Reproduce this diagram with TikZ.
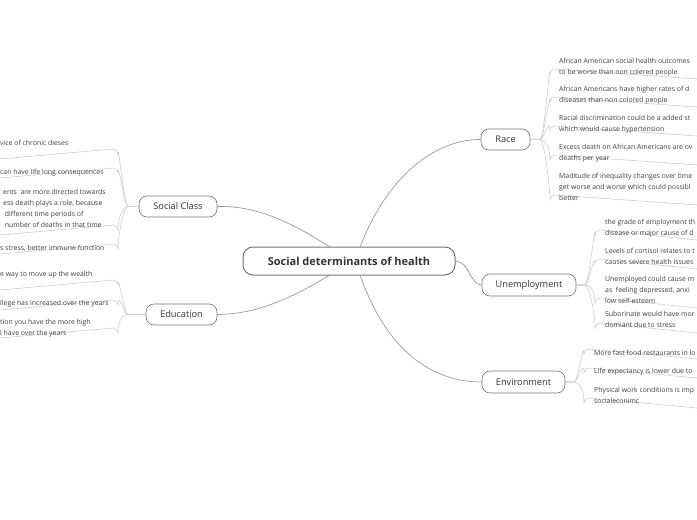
\documentclass[tikz,border=0pt]{standalone}
\usepackage{fontspec}
\setmainfont{Open Sans}
\begin{document}
\begin{tikzpicture}[x=1pt,y=-1pt,
  leaf/.style={anchor=north west,inner sep=0pt,align=left,text=black!75,font=\fontsize{6.9}{11}\selectfont,yshift=-3pt},
  br/.style={draw=black!55,rounded corners=8pt,fill=white,inner sep=0pt,text=black!80,font=\fontsize{9.2}{10}\selectfont,line width=0.6pt},
  main/.style={draw=black!55,line width=1pt,rounded corners=10pt,inner sep=0pt,font=\bfseries\fontsize{11}{12}\selectfont,text=black!80},
  con/.style={draw=black!40,line width=0.7pt},
  lf/.style={draw=black!20,line width=0.6pt}]
\useasboundingbox (0,0) rectangle (697,520);
\clip (0,0) rectangle (697,520);
% main
\node[main,minimum width=212pt,minimum height=28pt] (c) at (349,261) {Social determinants of health};
\node[br,minimum width=49pt,minimum height=21pt] (race) at (505.5,139.5) {Race};
\node[br,minimum width=94pt,minimum height=22pt] (unemp) at (529,285) {Unemployment};
\node[br,minimum width=83pt,minimum height=22pt] (env) at (523.5,382) {Environment};
\node[br,minimum width=78pt,minimum height=21pt] (sc) at (178,206.5) {Social Class};
\node[br,minimum width=71pt,minimum height=21pt] (edu) at (181.5,314.5) {Education};
\draw[con] (360,247) .. controls (390,170) and (440,139) .. (race.west);
\draw[con] (c.east) .. controls (470,262) and (470,285) .. (unemp.west);
\draw[con] (360,275) .. controls (390,360) and (440,382) .. (env.west);
\draw[con] (330,247) .. controls (280,215) and (250,206) .. (sc.east);
\draw[con] (330,275) .. controls (280,305) and (250,314) .. (edu.east);
\newcommand{\rleaf}[4]{\draw[lf] (#1.east) -- (#2,\pgfkeysvalueof{/tmp/y}) .. controls (#2+4,\pgfkeysvalueof{/tmp/y}) and (#3,#4-20) .. (#3,#4-5) arc[start angle=180,end angle=270,radius=5] -- (697,#4);}
\newcommand{\lleaf}[4]{\draw[lf] (#1.west) -- (#2,\pgfkeysvalueof{/tmp/y}) .. controls (#2-4,\pgfkeysvalueof{/tmp/y}) and (#3,#4-20) .. (#3,#4-5) arc[start angle=0,end angle=-90,radius=5] -- (0,#4);}
\pgfkeyssetvalue{/tmp/y}{139.5}
\rleaf{race}{540}{550}{79}\rleaf{race}{540}{550}{107}\rleaf{race}{540}{550}{136}\rleaf{race}{540}{550}{165}\rleaf{race}{540}{550}{205}
\pgfkeyssetvalue{/tmp/y}{285}
\rleaf{unemp}{585}{595}{240}\rleaf{unemp}{585}{595}{269}\rleaf{unemp}{585}{595}{308}\rleaf{unemp}{585}{595}{333}
\pgfkeyssetvalue{/tmp/y}{382}
\rleaf{env}{574}{584}{359}\rleaf{env}{574}{584}{378}\rleaf{env}{574}{584}{408}
\pgfkeyssetvalue{/tmp/y}{206.5}
\lleaf{sc}{128}{118}{159}\lleaf{sc}{128}{118}{178}\lleaf{sc}{128}{118}{235}\lleaf{sc}{128}{118}{254}
\pgfkeyssetvalue{/tmp/y}{314.5}
\lleaf{edu}{128}{118}{290}\lleaf{edu}{128}{118}{310}\lleaf{edu}{128}{118}{338}
% texts
\node[leaf] (r1) at (559,55) {African American social health outcomes\\to be worse than non colered people};
\node[leaf] (r2) at (559,83) {African Americans have higher rates of d\\diseases than non colored people};
\node[leaf] (r3) at (559,112) {Racial discrimination could be a added st\\which would cause hypertension};
\node[leaf] (r4) at (559,141) {Excess death on African Americans are ov\\deaths per year};
\node[leaf] (r5) at (559,170) {Maditude of inequality changes over time\\get worse and worse which could possibl\\better};
\node[leaf] (u1) at (605,216) {the grade of employment th\\disease or major cause of d};
\node[leaf] (u2) at (605,245) {Levels of cortisol relates to t\\causes severe health issues};
\node[leaf] (u3) at (605,273) {Unemployed could cause m\\as \ feeling depressed, anxi\\low self-esteem};
\node[leaf] (u4) at (605,308) {Suborinate would have mor\\domiant due to stress};
\node[leaf] (e1) at (594,347) {More fast food restaurants in lo};
\node[leaf] (e2) at (594,365) {Life expectancy is lower due to};
\node[leaf] (e3) at (594,384) {Physical work conditions is imp\\socialeconimc};
\node[leaf] (s1) at (0,137) {vice of chronic dieses};
\node[leaf] (s2) at (0,166) {can have life long consequences};
\node[leaf] (s3) at (3,186) {ents \ are more directed towards\\ess death plays a role, because\\ \ different time periods of\\ \ number of deaths in that time};
\node[leaf] (s4) at (0,242) {s stress, better immune function};
\node[leaf] (d1) at (0,268) {e way to move up the wealth};
\node[leaf] (d2) at (0,297) {llege has increased over the years};
\node[leaf] (d3) at (0,316) {tion you have the more high\\l have over the years};
\end{tikzpicture}
\end{document}
